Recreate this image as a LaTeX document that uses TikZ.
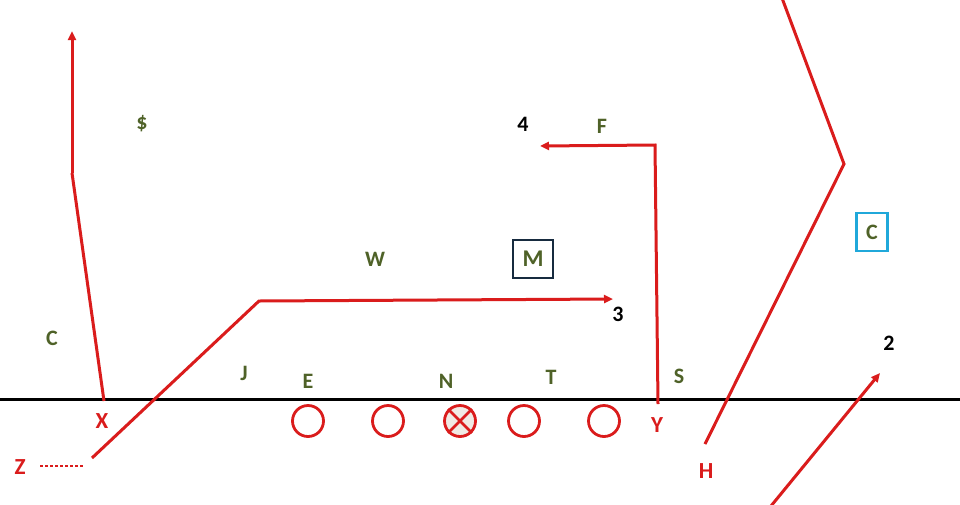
\documentclass[tikz,border=0pt]{standalone}
\usepackage{fontspec}
\setmainfont{Carlito}
\usetikzlibrary{arrows.meta}
\definecolor{route}{RGB}{218,28,28}
\definecolor{olive}{RGB}{79,98,40}
\definecolor{navy}{RGB}{23,43,63}
\definecolor{cyanbox}{RGB}{32,168,218}
\definecolor{ctrfill}{RGB}{240,234,228}
\tikzset{
  lbl/.style={font=\fontsize{22}{26}\selectfont\bfseries, text=olive, inner sep=0pt},
  num/.style={font=\fontsize{22}{26}\selectfont\bfseries, text=black, inner sep=0pt},
  rlbl/.style={font=\fontsize{23}{27}\selectfont\bfseries, text=route, inner sep=0pt},
  rt/.style={draw=route, line width=3pt, line join=miter},
  rtarrow/.style={rt, -{Triangle[length=9pt,width=8pt]}},
  lineman/.style={circle, draw=route, line width=2.8pt, minimum size=31pt, inner sep=0pt},
  mbox/.style={draw=navy, line width=1.8pt, minimum width=40pt, minimum height=38pt, inner sep=0pt},
  cbox/.style={draw=cyanbox, line width=2.6pt, minimum width=31pt, minimum height=38pt, inner sep=0pt},
}
\begin{document}
\begin{tikzpicture}[x=1pt,y=-1pt]
\useasboundingbox (0,0) rectangle (960,504);
\fill[white] (0,0) rectangle (960,504);
% line of scrimmage
\coordinate (losL) at (0,399);
\coordinate (losR) at (960,399);
\draw[black, line width=3pt] (losL) -- (losR);
% offensive line
\node[lineman] (o1) at (308,421) {};
\node[lineman] (o2) at (388,421) {};
\node[lineman, fill=ctrfill] (o3) at (460,421) {};
\node[lineman] (o4) at (524,421) {};
\node[lineman] (o5) at (604,421) {};
\draw[route, line width=2.8pt] (o3.45) -- (o3.225) (o3.135) -- (o3.315);
% defenders
\node[lbl] (dE) at (308,381) {E};
\node[lbl] (dN) at (446,381) {N};
\node[lbl] (dT) at (551,377) {T};
\node[lbl] (dS) at (679,376) {S};
\node[lbl] (dJ) at (244,373) {J};
\node[lbl] (dC) at (52,338) {C};
\node[lbl] (dD) at (142,124) {\$};
\node[lbl] (dW) at (375,259) {W};
\node[lbl] (dF) at (602,126) {F};
\node[mbox] (dM) at (533,259) {};
\node[lbl, font=\fontsize{24}{28}\selectfont\bfseries] at (dM) {M};
\node[cbox] (dCB) at (872,232) {};
\node[lbl] at (dCB) {C};
% numbers
\node[num] (n4) at (523,124) {4};
\node[num] (n3) at (618,314) {3};
\node[num] (n2) at (889,343) {2};
% offensive labels
\node[rlbl] (oX) at (102,421) {X};
\node[rlbl] (oY) at (657,425) {Y};
\node[rlbl] (oZ) at (20,467) {Z};
\node[rlbl] (oH) at (706,471) {H};
% X route
\coordinate (x0) at (104,401);
\coordinate (x1) at (72,173);
\coordinate (x2) at (72,31);
\draw[rt] (x0) -- (x1);
\draw[rtarrow] (x1) -- (x2);
% Z route
\coordinate (z0) at (40,466);
\coordinate (z1) at (84,466);
\draw[route, line width=2.6pt, dash pattern=on 2.5pt off 2.5pt] (z0) -- (z1);
\coordinate (z2) at (92,458);
\coordinate (z3) at (259,301);
\coordinate (z4) at (613,299);
\draw[rtarrow] (z2) -- (z3) -- (z4);
% Y route
\coordinate (y0) at (658,404);
\coordinate (y1) at (655,145);
\coordinate (y2) at (540,146);
\draw[rtarrow] (y0) -- (y1) -- (y2);
% H route
\coordinate (h0) at (705,444);
\coordinate (h1) at (844,164);
\coordinate (h2) at (782,-2);
\draw[rt] (h0) -- (h1) -- (h2);
% bottom-right route
\coordinate (b0) at (771,506);
\coordinate (b1) at (880,373);
\draw[rtarrow] (b0) -- (b1);
\end{tikzpicture}
\end{document}
